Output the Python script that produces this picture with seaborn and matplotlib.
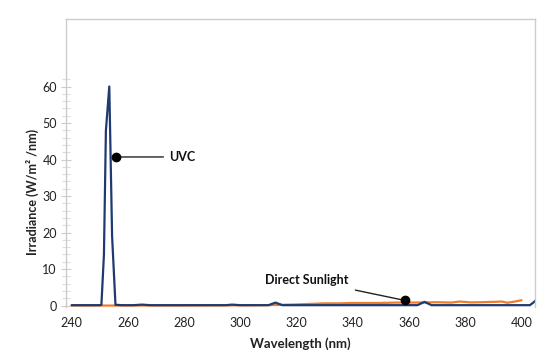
import numpy as np
import pandas as pd
import matplotlib
matplotlib.use("Agg")
import matplotlib.pyplot as plt
import seaborn as sns
from matplotlib.ticker import FixedLocator

# UVC lamp spectrum
uvc_wl = [240, 245, 250, 250.6, 251.5, 252.2, 253.4, 254.4, 255.6, 258, 262, 265, 268, 275, 285,
          295, 297, 300, 305, 310, 312.5, 315, 320, 330, 340, 350, 360, 363, 365.5, 368, 372,
          380, 390, 400, 403, 404.5, 405]
uvc_val = [0.1, 0.1, 0.1, 0.2, 14, 48, 60, 19, 0.2, 0.1, 0.1, 0.25, 0.1, 0.1, 0.1,
           0.1, 0.25, 0.1, 0.1, 0.1, 0.8, 0.1, 0.1, 0.1, 0.1, 0.1, 0.1, 0.1, 1.0, 0.1, 0.1,
           0.1, 0.1, 0.1, 0.1, 1.0, 1.4]

# Direct sunlight spectrum
sun_wl = [240, 260, 280, 300, 310, 315, 320, 325, 330, 335, 340, 345, 350, 355, 360, 365,
          370, 375, 378, 382, 385, 390, 393, 395, 398, 400]
sun_val = [0.0, 0.0, 0.0, 0.05, 0.1, 0.2, 0.3, 0.45, 0.6, 0.6, 0.7, 0.7, 0.7, 0.8, 0.8, 0.85,
           0.9, 0.8, 1.1, 0.85, 0.9, 1.0, 1.1, 0.75, 1.15, 1.45]

x_ticks = [240, 260, 280, 300, 320, 340, 360, 380, 400]
y_ticks = [0, 10, 20, 30, 40, 50, 60]

df = pd.concat([
    pd.DataFrame({"Wavelength": sun_wl, "Irradiance": sun_val, "Source": "Direct Sunlight"}),
    pd.DataFrame({"Wavelength": uvc_wl, "Irradiance": uvc_val, "Source": "UVC"}),
])

sns.set_style("white")
plt.rcParams["font.family"] = ["Lato", "DejaVu Sans"]

fig = plt.figure(figsize=(5.54, 3.61), dpi=100)
ax = fig.add_axes([0.1191, 0.1496, 0.8466, 0.7978])

sns.lineplot(data=df, x="Wavelength", y="Irradiance", hue="Source",
             palette={"Direct Sunlight": "#f07c2a", "UVC": "#1f3a70"},
             linewidth=1.6, ax=ax, legend=False, estimator=None, sort=False)

ax.set_xlim(238.0, 404.8)
ax.set_ylim(-0.4, 78.5)
ax.set_xticks(x_ticks)
ax.set_yticks(y_ticks)
ax.yaxis.set_minor_locator(FixedLocator(list(range(0, 63, 2))))
ax.tick_params(axis="y", which="major", length=7, width=0.8, direction="inout",
               color="#cccccc", labelsize=9, labelcolor="#222222", left=True, pad=3)
ax.tick_params(axis="y", which="minor", length=6, width=0.8, direction="inout",
               color="#dddddd", left=True)
ax.tick_params(axis="x", which="major", length=0, labelsize=9, labelcolor="#222222", pad=7)

for s in ["left", "top", "right"]:
    ax.spines[s].set_color("#cccccc")
    ax.spines[s].set_linewidth(1.0)
ax.spines["bottom"].set_visible(False)

ax.set_xlabel("Wavelength (nm)", fontsize=9.5, fontweight="bold", color="#222222", labelpad=6)
ax.set_ylabel("Irradiance (W/m² /nm)", fontsize=9, fontweight="bold", color="#222222")
ax.yaxis.set_label_coords(-0.058, 0.40)

# Annotations
ax.annotate("UVC", xy=(255.7, 40.7), xytext=(274.8, 40.7), fontsize=9, fontweight="bold",
            va="center", ha="left", color="#111111",
            arrowprops=dict(arrowstyle="-", color="#222222", lw=1.0, shrinkA=2, shrinkB=0))
ax.plot([255.7], [40.7], "o", color="black", markersize=6, zorder=5)

ax.annotate("Direct Sunlight", xy=(358.5, 1.4), xytext=(338.5, 7.0), fontsize=9,
            fontweight="bold", va="center", ha="right", color="#111111",
            arrowprops=dict(arrowstyle="-", color="#222222", lw=1.0, shrinkA=3, shrinkB=0))
ax.plot([358.5], [1.4], "o", color="black", markersize=6, zorder=5)

fig.savefig("out.png", dpi=100)
